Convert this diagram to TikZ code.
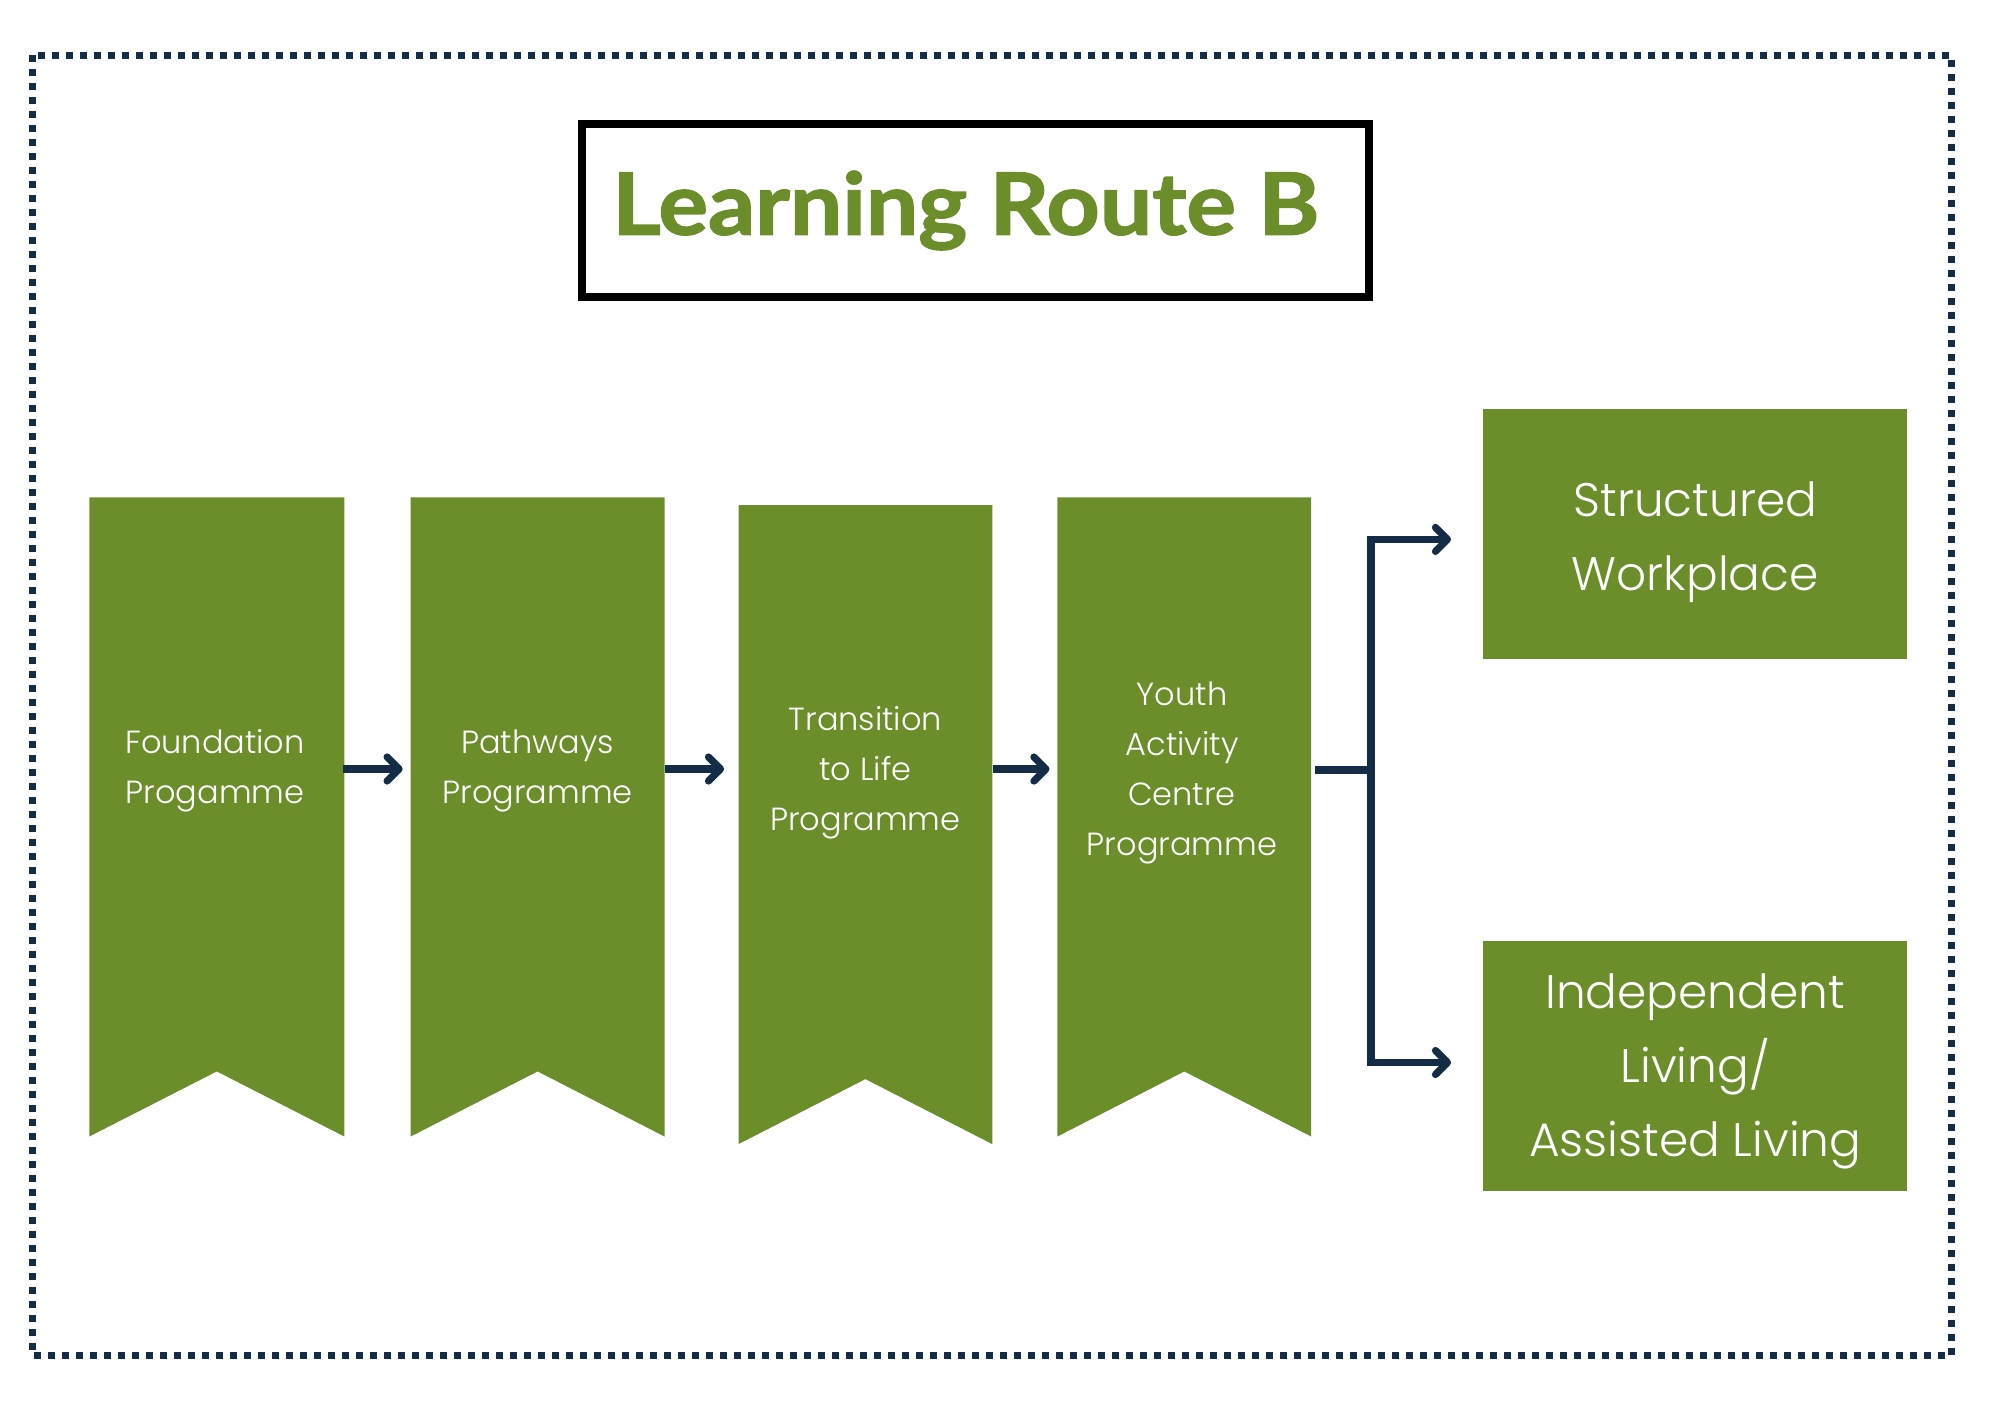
\documentclass[tikz,border=0pt]{standalone}
\usepackage{fontspec}
\usetikzlibrary{arrows.meta}
\newfontfamily\bodyfont{Poppins Light}
\newfontfamily\titlefont{Lato}[BoldFeatures={FakeBold=1.6}]
\definecolor{leaf}{HTML}{6B8E2B}
\definecolor{navy}{HTML}{152C46}
\tikzset{
  bannerfill/.style={fill=leaf},
  bantext/.style={text=white, align=center, inner sep=0pt, minimum width=127pt,
    font=\bodyfont\fontsize{16}{24.9}\selectfont},
  outbox/.style={fill=leaf, inner sep=0pt,
    minimum width=211.75pt, minimum height=125pt},
  outtext/.style={text=white, align=center, inner sep=0pt,
    font=\bodyfont\fontsize{23.5}{37}\selectfont},
  titlebox/.style={draw=black, line width=4pt, fill=white, minimum width=393.5pt,
    minimum height=86.75pt, inner sep=0pt},
  titletext/.style={text=leaf, inner sep=0pt,
    font=\titlefont\bfseries\fontsize{43}{50}\selectfont},
  flow/.style={draw=navy, line width=3.6pt, line join=miter},
  flowarrow/.style={flow, -{Straight Barb[length=6pt,width=12pt,round]}},
  dotframe/.style={draw=navy, line width=3.5pt, dash pattern=on 3.5pt off 3.5pt}
}
\begin{document}
\begin{tikzpicture}[x=0.5pt,y=-0.5pt]
\useasboundingbox (0,0) rectangle (2000,1414);
\fill[white] (0,0) rectangle (2000,1414);
% dotted frame
\draw[dotframe] (32,55) rectangle (1951.5,1355);
% title
\node[titlebox] (title) at (975,210.5) {};
\node[titletext] (titlelabel) at (966,210.5) {\scalebox{1.08}[1]{Learning Route B}};
% banners
\fill[bannerfill] (89.3,497.4) -- (344.4,497.4) -- (344.4,1136.5) -- (216.8,1071.4) -- (89.3,1136.5) -- cycle;
\fill[bannerfill] (410.7,497.4) -- (664.5,497.4) -- (664.5,1136.5) -- (537.6,1071.4) -- (410.7,1136.5) -- cycle;
\fill[bannerfill] (738.5,505.1) -- (992.3,505.1) -- (992.3,1144.1) -- (865.4,1079.1) -- (738.5,1144.1) -- cycle;
\fill[bannerfill] (1057.4,497.4) -- (1311.2,497.4) -- (1311.2,1136.5) -- (1184.3,1071.4) -- (1057.4,1136.5) -- cycle;
\node[bantext, minimum width=127.55pt] (b1) at (215,771) {Foundation\\Progamme};
\node[bantext, minimum width=126.9pt] (b2) at (537.6,771) {Pathways\\Programme};
\node[bantext, minimum width=126.9pt] (b3) at (865.4,773) {Transition\\to Life\\Programme};
\node[bantext, minimum width=126.9pt] (b4) at (1182,773) {Youth\\Activity\\Centre\\Programme};
% outcome boxes
\node[outbox] (s1) at (1695.2,534.4) {};
\node[outbox] (s2) at (1695.2,1066.3) {};
\node[outtext] (s1t) at (1695.2,542) {Structured\\Workplace};
\node[outtext] (s2t) at (1695.2,1071) {Independent\\Living/\\Assisted Living};
% arrows
\draw[flowarrow, shorten >=3.8pt] (b1.east |- 0,769) -- (b2.west |- 0,769);
\draw[flowarrow, shorten >=7pt] (b2.east |- 0,769) -- (b3.west |- 0,769);
\draw[flowarrow, shorten >=2.6pt] (b3.east |- 0,769) -- (b4.west |- 0,769);
\coordinate (j) at (1371,770);
\draw[flow, shorten <=3pt] (b4.east |- j) -- (j);
\draw[flowarrow, shorten >=16pt] (j) |- ([yshift=-2.5pt]s1.west);
\draw[flowarrow, shorten >=16pt] (j) |- ([yshift=1.9pt]s2.west);
\end{tikzpicture}
\end{document}
